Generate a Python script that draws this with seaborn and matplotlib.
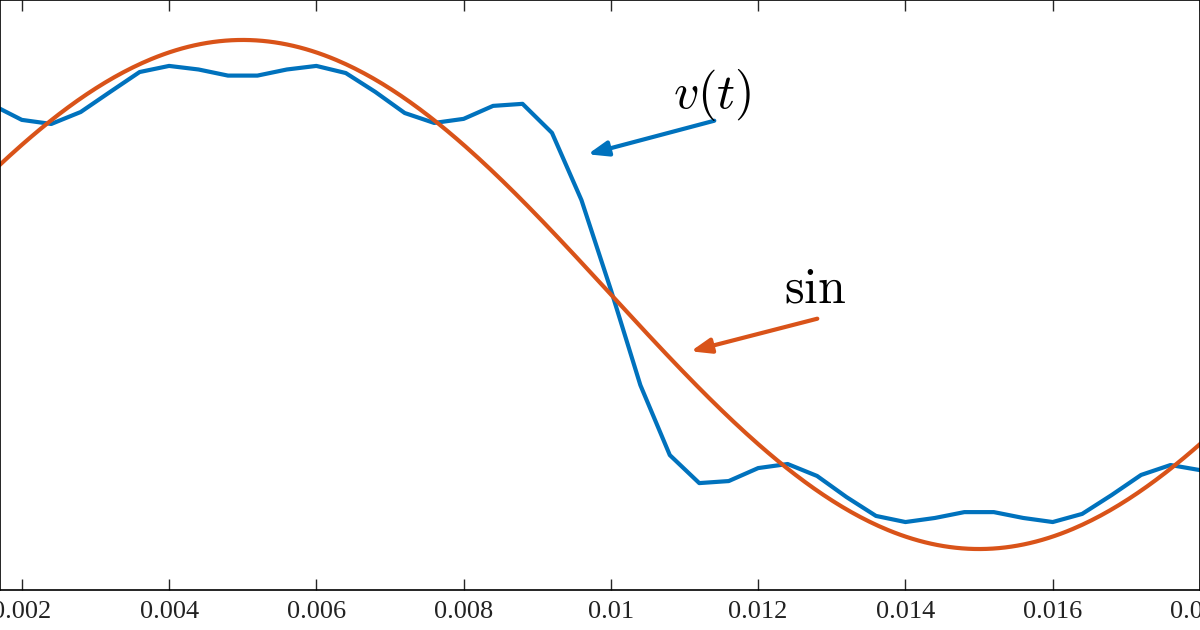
import numpy as np
import matplotlib
matplotlib.use("Agg")
import matplotlib.pyplot as plt
import seaborn as sns

t_v = np.round(np.arange(0.0016, 0.01801, 0.0004), 5)
v = [0.745, 0.686, 0.670, 0.717, 0.796, 0.874, 0.898, 0.884, 0.860, 0.860, 0.884,
     0.898, 0.870, 0.796, 0.713, 0.674, 0.690, 0.741, 0.749, 0.635, 0.371, 0.018,
     -0.356, -0.631, -0.741, -0.733, -0.682, -0.666, -0.713, -0.796, -0.870, -0.894,
     -0.878, -0.855, -0.855, -0.878, -0.894, -0.862, -0.788, -0.709, -0.670, -0.690]
t_s = np.linspace(0.0015, 0.0182, 400)
s = np.sin(2 * np.pi * 50 * t_s)
xticks = [0.002, 0.004, 0.006, 0.008, 0.010, 0.012, 0.014, 0.016, 0.018]
xlabels = ["0.002", "0.004", "0.006", "0.008", "0.01", "0.012", "0.014", "0.016", "0.018"]

sns.set_style("white")
plt.rcParams['font.family'] = ['Liberation Serif', 'DejaVu Serif']
plt.rcParams['mathtext.fontset'] = 'cm'

fig = plt.figure(figsize=(12, 6.3), dpi=100)
ax = fig.add_axes([0, 1 - 590 / 630, 1, 590 / 630])
blue, orange = "#0072BD", "#D95319"
sns.lineplot(x=t_v, y=v, ax=ax, color=blue, lw=3)
sns.lineplot(x=t_s, y=s, ax=ax, color=orange, lw=3)
ax.set_xlim(0.001704, 0.017842)
ax.set_ylim(-1.161, 1.157)
ax.set_xticks(xticks)
ax.set_xticklabels(xlabels, fontsize=19)
ax.set_yticks([])
ax.tick_params(axis='x', direction='in', length=8, width=1, pad=8, bottom=True, top=True,
               labelcolor='#222222')
for sp in ax.spines.values():
    sp.set_color('black'); sp.set_linewidth(1.2)

H = 630
ax.annotate("", xy=(585, H - 155), xytext=(717, H - 120), xycoords='figure pixels',
            arrowprops=dict(arrowstyle='-|>,head_length=1.2,head_width=0.45', color=blue, lw=3))
fig.text(712, H - 95, r"$v(t)$", fontsize=36, ha='center', va='center', color='black',
         transform=None)
ax.annotate("", xy=(688, H - 352), xytext=(820, H - 318), xycoords='figure pixels',
            arrowprops=dict(arrowstyle='-|>,head_length=1.2,head_width=0.45', color=orange, lw=3))
fig.text(815, H - 290, r"$\mathrm{sin}$", fontsize=36, ha='center', va='center', color='black',
         transform=None)
fig.savefig("out.png", dpi=100)
